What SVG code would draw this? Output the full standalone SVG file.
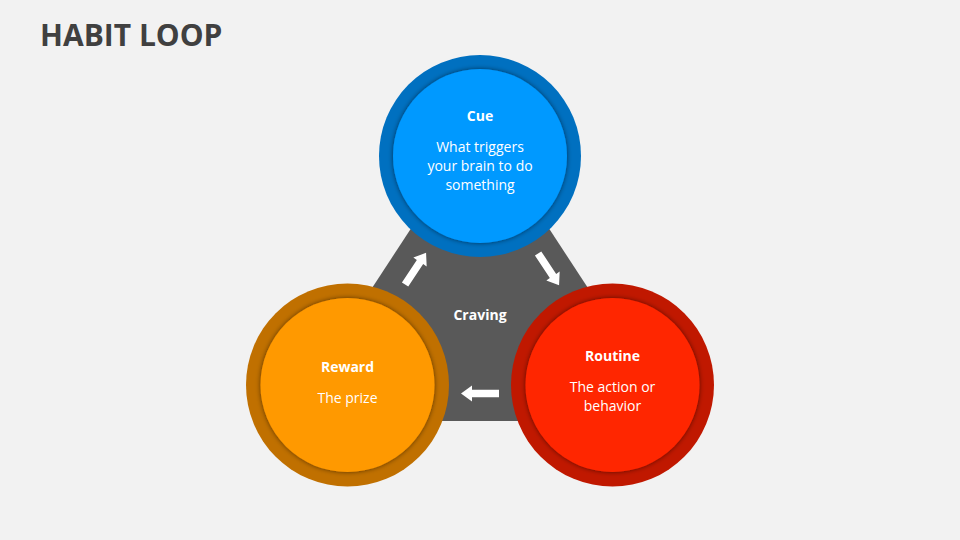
<svg xmlns="http://www.w3.org/2000/svg" width="960" height="540" viewBox="0 0 960 540">
  <defs>
    <filter id="sh" x="-20%" y="-20%" width="140%" height="140%">
      <feGaussianBlur in="SourceAlpha" stdDeviation="2.5"/>
      <feOffset dx="0" dy="0" result="b"/>
      <feFlood flood-color="#000" flood-opacity="0.55"/>
      <feComposite in2="b" operator="in"/>
      <feMerge><feMergeNode/><feMergeNode in="SourceGraphic"/></feMerge>
    </filter>
    <polygon id="arr" points="0,-3.8 -27,-3.8 -27,3.8 0,3.8 0,8 11,0 0,-8" fill="#fff"/>
  </defs>
  <style>
    .t{font-family:"Open Sans","Liberation Sans",sans-serif;fill:#fff;text-anchor:middle;font-size:14px}
    .b{font-weight:bold;font-size:14px}
  </style>
  <rect width="960" height="540" fill="#F2F2F2"/>
  <text x="40" y="46" font-family="Open Sans, Liberation Sans, sans-serif" font-weight="bold" font-size="30" fill="#404040">HABIT LOOP</text>

  <g id="craving">
    <polygon points="480,123 285,421 675,421" fill="#595959"/>
    <text class="t b" x="480" y="320">Craving</text>
  </g>

  <g id="connectors">
    <use href="#arr" transform="translate(420,262) rotate(-56.5)"/>
    <use href="#arr" transform="translate(553,276) rotate(56.5)"/>
    <use href="#arr" transform="translate(472,393.5) rotate(180)"/>
  </g>

  <g id="cue">
    <circle cx="480" cy="156" r="101" fill="#0070C0"/>
    <circle cx="480" cy="156" r="87" fill="#0099FF" filter="url(#sh)"/>
    <text class="t b" x="480" y="121">Cue</text>
    <text class="t" x="480" y="152">What triggers</text>
    <text class="t" x="480" y="171">your brain to do</text>
    <text class="t" x="480" y="190">something</text>
  </g>

  <g id="reward">
    <circle cx="347.5" cy="385" r="101.5" fill="#C07000"/>
    <circle cx="347.5" cy="385" r="87" fill="#FF9900" filter="url(#sh)"/>
    <text class="t b" x="347.5" y="372">Reward</text>
    <text class="t" x="347.5" y="403">The prize</text>
  </g>

  <g id="routine">
    <circle cx="612.5" cy="385" r="101.5" fill="#C01800"/>
    <circle cx="612.5" cy="385" r="87" fill="#FF2800" filter="url(#sh)"/>
    <text class="t b" x="612.5" y="361">Routine</text>
    <text class="t" x="612.5" y="392">The action or</text>
    <text class="t" x="612.5" y="411">behavior</text>
  </g>
</svg>
